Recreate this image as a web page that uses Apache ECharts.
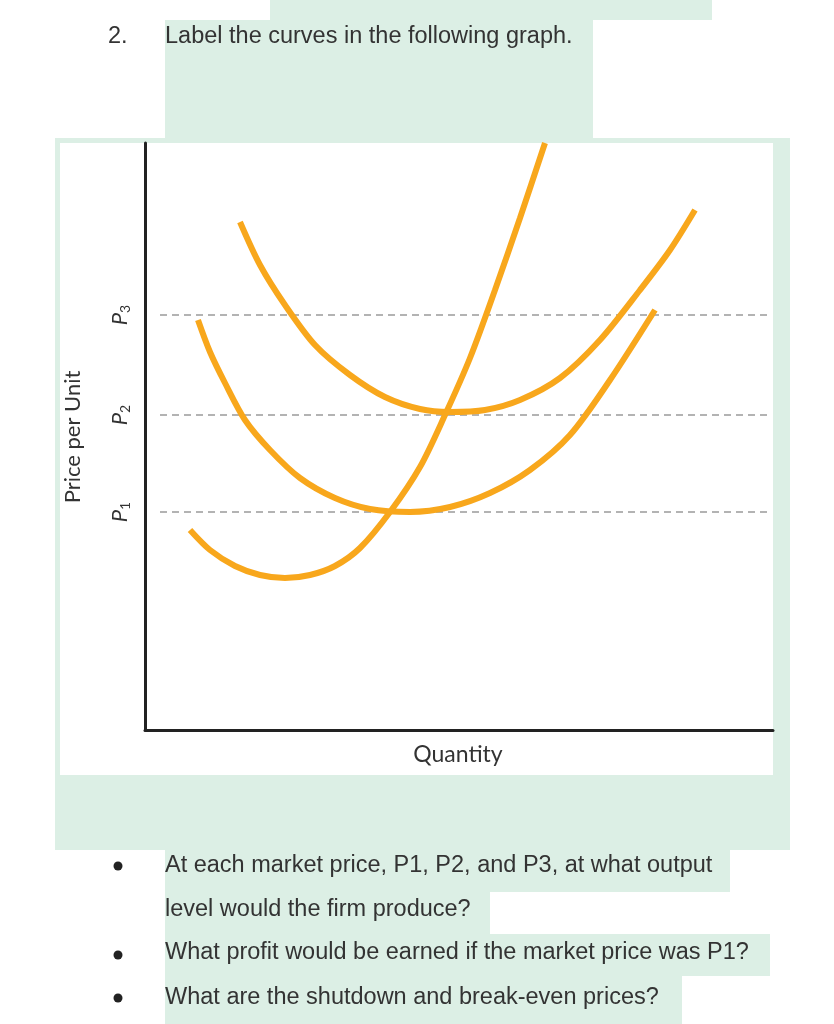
<!DOCTYPE html>
<html><head><meta charset="utf-8">
<script src="https://cdn.jsdelivr.net/npm/echarts@6/dist/echarts.min.js"></script>
<style>html,body{margin:0;padding:0;background:#fff}#c{width:834px;height:1024px}</style>
</head><body><div id="c"></div>
<script>
// Curve points: x = quantity (px-like units), y = price units
const mcX = [190, 210, 235, 260, 285, 310, 335, 360, 390, 420, 445, 470, 495, 520, 545];
const mcY = [200, 180, 164, 155, 152, 155, 164, 182, 218, 263, 315, 372, 440, 512, 587];
const avcX = [198, 210, 225, 245, 270, 300, 335, 370, 410, 450, 490, 530, 570, 610, 655];
const avcY = [410, 378, 347, 310, 280, 252, 232, 221, 218, 223, 237, 260, 295, 350, 420];
const atcX = [240, 260, 285, 315, 350, 385, 420, 450, 485, 520, 560, 600, 640, 670, 695];
const atcY = [508, 465, 425, 385, 355, 333, 321, 318, 320, 330, 352, 390, 440, 480, 520];
const priceLevels = [218, 315, 415];
const priceNames = ['1', '2', '3'];
const bullets = ['At each market price, P1, P2, and P3, at what output', 'level would the firm produce?', 'What profit would be earned if the market price was P1?', 'What are the shutdown and break-even prices?'];

const zip = (a, b) => a.map((v, i) => [v, b[i]]);
const ORANGE = '#f8a71c', GREEN = '#dcefe5';
const curve = (x, y) => ({type: 'line', smooth: 0.3, symbol: 'none', data: zip(x, y), lineStyle: {color: ORANGE, width: 6}, z: 5});
const series = [curve(mcX, mcY), curve(avcX, avcY), curve(atcX, atcY)];
priceLevels.forEach(p => series.push({type: 'line', symbol: 'none', data: [[160, p], [770, p]], lineStyle: {color: '#9a9a9a', width: 1.5, type: [7, 5]}, z: 3}));

const g = [];
const rect = (x, y, w, h, c) => g.push({type: 'rect', shape: {x, y, width: w, height: h}, style: {fill: c}, z: -10});
rect(270, 0, 442, 20, GREEN);
rect(165, 20, 428, 120, GREEN);
rect(55, 138, 735, 712, GREEN);
rect(60, 143, 713, 632, '#fff');
rect(165, 846, 565, 46, GREEN);
rect(165, 892, 325, 42, GREEN);
rect(165, 934, 605, 42, GREEN);
rect(165, 976, 517, 48, GREEN);
const txt = (x, y, t, extra) => g.push(Object.assign({type: 'text', x, y, style: Object.assign({text: t, fill: '#333', font: '23.5px "Liberation Sans", Arial', textVerticalAlign: 'middle'}, extra || {})}, {z: 10}));
txt(108, 37, '2.');
txt(165, 37, 'Label the curves in the following graph.');
g.push({type: 'text', x: 73, y: 437, rotation: Math.PI / 2, z: 10, style: {text: 'Price per Unit', fill: '#333', font: '22px Lato, "Open Sans", sans-serif', textAlign: 'center', textVerticalAlign: 'middle'}});
priceLevels.forEach((p, i) => {
  const py = 730 - p;
  g.push({type: 'text', x: 120, y: py, rotation: Math.PI / 2, z: 10, style: {text: '{a|P}{b|' + priceNames[i] + '}', textAlign: 'center', textVerticalAlign: 'middle', rich: {a: {fontSize: 22, fontStyle: 'italic', fontFamily: 'Lato', fill: '#333'}, b: {fontSize: 14, fontFamily: 'Lato', fill: '#333', padding: [10, 0, 0, 0]}}}});
});
txt(458, 755, 'Quantity', {font: '23px Lato, sans-serif', textAlign: 'center'});
const by = [866, 910, 953, 998];
bullets.forEach((t, i) => txt(165, by[i], t));
[866, 955, 998].forEach(y => g.push({type: 'circle', shape: {cx: 118, cy: y, r: 4.5}, style: {fill: '#222'}, z: 10}));

const chart = echarts.init(document.getElementById('c'));
chart.setOption({
  animation: false,
  grid: {left: 145, right: 61, top: 143, bottom: 294},
  xAxis: {type: 'value', min: 145, max: 773, axisLine: {lineStyle: {color: '#222', width: 3}}, axisTick: {show: false}, axisLabel: {show: false}, splitLine: {show: false}},
  yAxis: {type: 'value', min: 0, max: 587, axisLine: {show: true, lineStyle: {color: '#222', width: 3}}, axisTick: {show: false}, axisLabel: {show: false}, splitLine: {show: false}},
  series, graphic: g
});
</script></body></html>
